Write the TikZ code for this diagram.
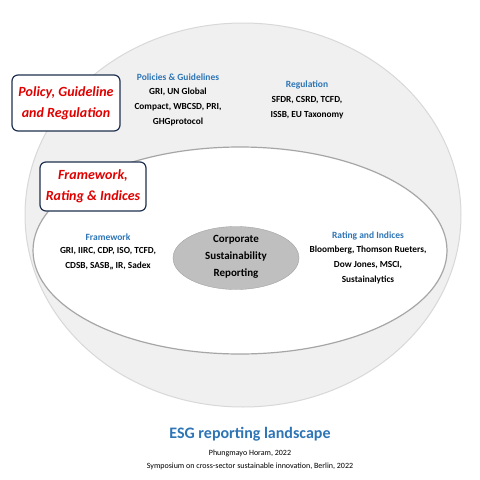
\documentclass[tikz,border=0pt]{standalone}
\usepackage{fontspec}
\setmainfont{Carlito}[BoldFont={Carlito Bold}, ItalicFont={Carlito Italic}, BoldItalicFont={Carlito Bold Italic}]
\usetikzlibrary{shapes.geometric}
\definecolor{hdblue}{HTML}{2E75B6}
\definecolor{boxred}{HTML}{E00000}
\definecolor{navy}{HTML}{1F3050}
\definecolor{outerfill}{HTML}{F0F0F0}
\definecolor{outerline}{HTML}{D8D8D8}
\definecolor{corefill}{HTML}{BFBFBF}
\tikzset{
  hd/.style={text=hdblue, font=\fontsize{9.5}{11}\selectfont\bfseries, inner sep=0pt},
  body/.style={align=center, font=\fontsize{9.3}{14.7}\selectfont\bfseries, inner sep=0pt},
  tag/.style={draw=navy, line width=1.2pt, rounded corners=6pt, fill=white, text=boxred,
    align=center, font=\fontsize{14}{21}\selectfont\bfseries\itshape, inner sep=0pt},
  ell/.style={ellipse, inner sep=0pt}
}
\begin{document}
\begin{tikzpicture}[x=1pt,y=-1pt]
\useasboundingbox[fill=white] (0,0) rectangle (480,480);
\node[ell, fill=outerfill, draw=outerline, line width=1pt, minimum width=436pt, minimum height=384pt] (outer) at (243,215) {};
\node[ell, fill=white, draw=gray!70, line width=1.2pt, minimum width=414pt, minimum height=207pt] (inner) at (240,250.5) {};
\node[ell, fill=corefill, draw=corefill!80!black, line width=0.3pt, minimum width=126pt, minimum height=63pt] (core) at (236,258) {};
\node[body, font=\fontsize{11}{17}\selectfont\bfseries] (coretext) at (236,257) {Corporate\\Sustainability\\Reporting};

\node[tag, minimum width=108pt, minimum height=56pt] (tagA) at (66,103) {Policy, Guideline\\and Regulation};
\node[tag, minimum width=106pt, minimum height=49pt] (tagB) at (93,186.5) {Framework,\\Rating \& Indices};

\node[hd] (polhd) at (178,77) {Policies \& Guidelines};
\node[body] (polbody) at (178,107) {GRI, UN Global\\Compact, WBCSD, PRI,\\GHGprotocol};

\node[hd] (reghd) at (307,85) {Regulation};
\node[body] (regbody) at (307,107.5) {SFDR, CSRD, TCFD,\\ISSB, EU Taxonomy};

\node[hd] (fwhd) at (108,237) {Framework};
\node[body] (fwbody) at (108,259) {GRI, IIRC, CDP, ISO, TCFD,\\CDSB, SASB,, IR, Sadex};

\node[hd] (rihd) at (368,236) {Rating and Indices};
\node[body] (ribody) at (368,265) {Bloomberg, Thomson Rueters,\\Dow Jones, MSCI,\\Sustainalytics};

\node[text=hdblue, font=\fontsize{16}{18}\selectfont\bfseries, inner sep=0pt] (title) at (250,434) {ESG reporting landscape};
\node[font=\fontsize{8}{9}\selectfont, inner sep=0pt] (author) at (250,453) {Phungmayo Horam, 2022};
\node[font=\fontsize{8}{9}\selectfont, inner sep=0pt] (venue) at (250,466) {Symposium on cross-sector sustainable innovation, Berlin, 2022};
\end{tikzpicture}
\end{document}
